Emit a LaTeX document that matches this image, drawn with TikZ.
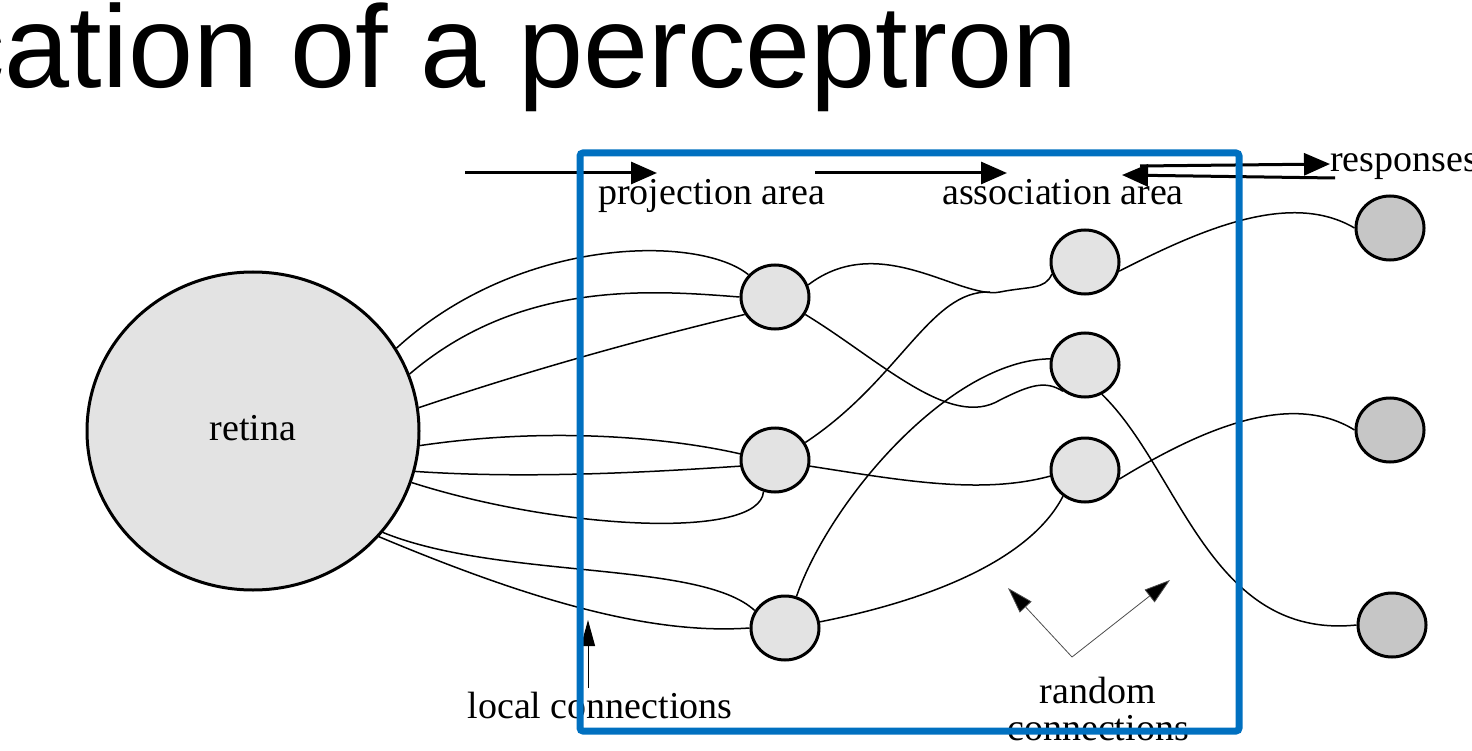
\documentclass[tikz,border=0pt]{standalone}
\usepackage{fontspec}
\setmainfont{Liberation Serif}
\newfontfamily\titlefont{Liberation Sans}
\usetikzlibrary{arrows.meta,shapes.geometric}
\definecolor{boxblue}{RGB}{0,112,192}
\begin{document}
\begin{tikzpicture}[x=1pt,y=-1pt,
  unit/.style={draw,line width=3pt,fill=gray!22,ellipse,minimum width=68pt,minimum height=64pt,inner sep=0pt},
  resp/.style={unit,fill=gray!45},
  wire/.style={line width=1.5pt},
  bigarrow/.style={line width=3pt,-{Triangle[length=26pt,width=22pt]}},
  thinarrow/.style={line width=0.8pt,gray!60!black,-{Triangle[length=26pt,width=16pt,fill=black]}},
  lbl/.style={font=\fontsize{38}{40}\selectfont,inner sep=0pt}]
\useasboundingbox (0,0) rectangle (1472,751);
\clip (0,0) rectangle (1472,751);
\node[anchor=base east,inner sep=0pt,font=\titlefont\fontsize{117}{122}\selectfont] (title) at (1078,88) {ication of a perceptron};
\node[draw,line width=3pt,fill=gray!22,ellipse,minimum width=332pt,minimum height=318pt] (ret) at (253,431) {};
\node[lbl] (rt) at (253,428) {retina};
\node[unit] (p1) at (775,297) {};
\node[unit] (p2) at (775,460) {};
\node[unit] (p3) at (785,628) {};
\node[unit] (a1) at (1085,262) {};
\node[unit] (a2) at (1085,365) {};
\node[unit] (a3) at (1085,470) {};
\node[resp] (r1) at (1390,228) {};
\node[resp] (r2) at (1390,430) {};
\node[resp] (r3) at (1392,625) {};
% retina -> projection
\draw[wire] (ret.30) .. controls (520,235) and (700,235) .. (p1.140);
\draw[wire] (ret.20) .. controls (520,280) and (650,290) .. (p1.180);
\draw[wire] (ret.8) .. controls (560,360) and (680,330) .. (p1.210);
\draw[wire] (ret.-5) .. controls (560,425) and (680,440) .. (p2.170);
\draw[wire] (ret.-14) .. controls (540,480) and (680,470) .. (p2.190);
\draw[wire] (ret.-18) .. controls (560,530) and (760,540) .. (p2.250);
\draw[wire] (ret.-38) .. controls (500,580) and (700,560) .. (p3.150);
\draw[wire] (ret.-40) .. controls (530,600) and (650,635) .. (p3.180);
% projection -> association
\draw[wire] (p1.20) .. controls (880,230) and (960,300) .. (1000,292) .. controls (1030,286) and (1045,290) .. (a1.200);
\draw[wire] (p1.-30) .. controls (880,360) and (950,430) .. (1000,400) .. controls (1030,385) and (1045,380) .. (a2.230);
\draw[wire] (p2.30) .. controls (900,380) and (930,290) .. (990,292);
\draw[wire] (p2.-10) .. controls (900,480) and (980,495) .. (a3.190);
\draw[wire] (p3.70) .. controls (830,500) and (950,360) .. (a2.170);
\draw[wire] (p3.10) .. controls (930,600) and (1030,560) .. (a3.230);
% association -> responses
\draw[wire] (a1.-15) .. controls (1200,230) and (1290,190) .. (r1.180);
\draw[wire] (a3.-15) .. controls (1200,430) and (1290,390) .. (r2.180);
\draw[wire] (a2.-60) .. controls (1180,470) and (1210,640) .. (r3.180);
% labels and arrows
\node[lbl,anchor=base west] (pa) at (598,205) {projection area};
\node[lbl,anchor=base west] (aa) at (942,205) {association area};
\node[lbl,anchor=base west] (rs) at (1330,172) {responses};
\coordinate (s1) at (465,173); \coordinate (e1) at (657,173);
\coordinate (s2) at (815,173); \coordinate (e2) at (1007,173);
\coordinate (s3) at (1140,166); \coordinate (e3) at (1330,164);
\coordinate (s4) at (1335,178); \coordinate (e4) at (1122,175);
\draw[bigarrow] (s1) -- (e1);
\draw[bigarrow] (s2) -- (e2);
\draw[bigarrow] (s3) -- (e3);
\draw[bigarrow] (s4) -- (e4);
\node[lbl,anchor=base] (lc) at (600,718) {local connections};
\node[lbl,anchor=base] (rc1) at (1098,703) {random};
\node[lbl,anchor=base] (rc2) at (1098,740) {connections};
\coordinate (lcs) at (588,688); \coordinate (lce) at (588,620);
\draw[line width=1pt,-{Triangle[length=26pt,width=14pt]}] (lcs) -- (lce);
\coordinate (rv) at (1072,657); \coordinate (rl) at (1008,588); \coordinate (rr) at (1170,580);
\draw[thinarrow] (rv) -- (rl);
\draw[thinarrow] (rv) -- (rr);
\draw[boxblue,line width=7pt,rounded corners=3pt] (580,153) rectangle (1239,731);
\end{tikzpicture}
\end{document}
